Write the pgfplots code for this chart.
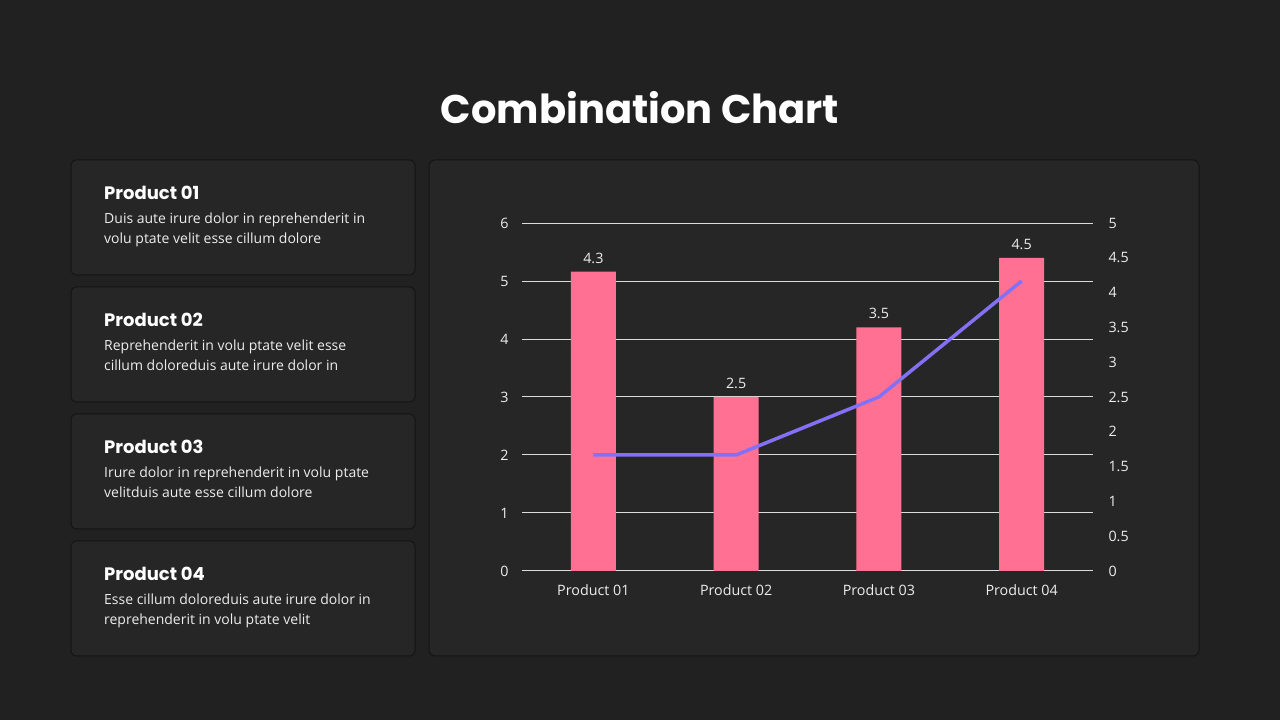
\documentclass[border=0pt]{standalone}
\usepackage{fontspec}
\setmainfont{Open Sans}
\newfontfamily\headfont{Poppins}
\usepackage{pgfplots}
\pgfplotsset{compat=1.18}
\definecolor{bg}{HTML}{212121}
\definecolor{boxc}{HTML}{262626}
\definecolor{border}{HTML}{141414}
\definecolor{barc}{HTML}{FF7092}
\definecolor{linec}{HTML}{8470F5}
\definecolor{txt}{HTML}{EDEDED}
\definecolor{gridc}{HTML}{DCDCDC}
\begin{document}
\begin{tikzpicture}[x=1pt,y=1pt]
\fill[bg] (0,0) rectangle (1280,720);
% left boxes
\foreach \t in {160,287,414,541}{
  \draw[fill=boxc,draw=border,line width=1pt,rounded corners=5pt] (71,720-\t) rectangle (415,720-\t-115);
}
% chart panel
\draw[fill=boxc,draw=border,line width=1pt,rounded corners=6pt] (429,720-160) rectangle (1199,720-656);
% title
\node[anchor=base,text=white,inner sep=0pt] at (640,720-124) {\fontsize{40}{46}\selectfont\headfont\bfseries Combination Chart};
% box texts
\def\boxtext#1#2#3#4{%
  \node[anchor=base west,text=white,inner sep=0pt] at (104,720-#1) {\fontsize{18}{22}\selectfont\headfont\bfseries #2};
  \node[anchor=base west,text=txt,inner sep=0pt] at (104,720-#1-24) {\fontsize{14}{16}\selectfont #3};
  \node[anchor=base west,text=txt,inner sep=0pt] at (104,720-#1-44) {\fontsize{14}{16}\selectfont #4};
}
\boxtext{200}{Product 01}{Duis aute irure dolor in reprehenderit in}{volu ptate velit esse cillum dolore}
\boxtext{327}{Product 02}{Reprehenderit in volu ptate velit esse}{cillum doloreduis aute irure dolor in}
\boxtext{454}{Product 03}{Irure dolor in reprehenderit in volu ptate}{velitduis aute esse cillum dolore}
\boxtext{581}{Product 04}{Esse cillum doloreduis aute irure dolor in}{reprehenderit in volu ptate velit}
% axes
\pgfplotsset{
  common/.style={
    at={(522pt,149pt)}, anchor=south west,
    scale only axis, width=571pt, height=348pt,
    xmin=-0.5, xmax=3.5,
    axis line style={draw=none},
    major tick style={draw=none},
    ticklabel style={text=txt,font=\fontsize{14.3}{16}\selectfont},
    /pgf/number format/assume math mode=true,
  }
}
\begin{axis}[common,
  ymin=0, ymax=6, ytick={0,1,...,6},
  ymajorgrids, grid style={gridc,line width=1pt},
  xtick={0,1,2,3}, xticklabels={Product 01,Product 02,Product 03,Product 04},
  xticklabel style={yshift=-10pt},
  yticklabel style={xshift=-10pt},
]
\end{axis}
\begin{axis}[common,
  ymin=0, ymax=5, ytick={0,0.5,...,5},
  axis y line*=right, axis x line=none,
  yticklabel style={anchor=west,xshift=12pt},
  /pgf/number format/fixed,
  nodes near coords,
  every node near coord/.append style={text=txt,font=\fontsize{14.3}{16}\selectfont,inner sep=0pt,anchor=south,yshift=8pt},
  point meta=explicit symbolic,
]
\addplot[ybar, bar width=45pt, fill=barc, draw=none] coordinates {(0,4.3)[4.3] (1,2.5)[2.5] (2,3.5)[3.5] (3,4.5)[4.5]};
\end{axis}
\begin{axis}[common, ymin=0, ymax=6, hide axis]
\addplot[linec, line width=3.5pt, line join=round] coordinates {(0,2) (1,2) (2,3) (3,5)};
\end{axis}
\end{tikzpicture}
\end{document}
